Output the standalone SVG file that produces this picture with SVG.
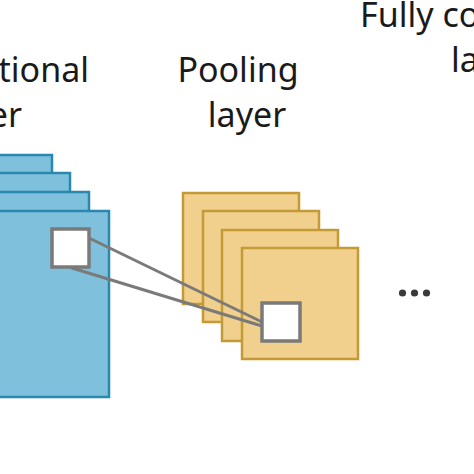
<svg xmlns="http://www.w3.org/2000/svg" width="474" height="474" viewBox="0 0 474 474">
  <style>
    .lbl { font-family: "Noto Sans", "Open Sans", "DejaVu Sans", sans-serif; font-size: 34px; fill: #1a1a1a; }
    .blue { fill: #7fc0dc; stroke: #2a88ae; stroke-width: 2.5; }
    .gold { fill: #f1d08d; stroke: #c39a35; stroke-width: 2.5; }
    .win { fill: #ffffff; stroke: #7a7a7a; stroke-width: 3.5; }
    .link { stroke: #7a7a7a; stroke-width: 3; fill: none; stroke-linecap: round; }
    .dot { fill: #3a3a3a; }
  </style>
  <rect width="474" height="474" fill="#ffffff"/>

  <g id="conv-label">
    <text class="lbl" x="89" y="82" text-anchor="end">tional</text>
    <text class="lbl" x="22" y="127" text-anchor="end">er</text>
  </g>
  <g id="pool-label">
    <text class="lbl" x="238" y="82" text-anchor="middle">Pooling</text>
    <text class="lbl" x="247" y="127" text-anchor="middle">layer</text>
  </g>
  <g id="fc-label">
    <text class="lbl" x="360" y="27">Fully co</text>
    <text class="lbl" x="451" y="72">la</text>
  </g>

  <g id="conv-layer">
    <rect class="blue" x="-80" y="155" width="132" height="186"/>
    <rect class="blue" x="-62" y="173" width="132" height="186"/>
    <rect class="blue" x="-43" y="192" width="132" height="186"/>
    <rect class="blue" x="-23" y="211" width="132" height="186"/>
  </g>

  <g id="pool-layer">
    <rect class="gold" x="183" y="193" width="116" height="111"/>
    <rect class="gold" x="203" y="211" width="116" height="111"/>
    <rect class="gold" x="222" y="230" width="116" height="111"/>
    <rect class="gold" x="242" y="248" width="116" height="111"/>
  </g>

  <g id="connectors">
    <line class="link" x1="89" y1="238" x2="262" y2="322"/>
    <line class="link" x1="72" y1="268" x2="262" y2="326"/>
  </g>

  <g id="conv-window">
    <rect class="win" x="52" y="229" width="37" height="38"/>
  </g>
  <g id="pool-window">
    <rect class="win" x="262" y="303" width="38" height="38"/>
  </g>

  <g id="ellipsis">
    <circle class="dot" cx="402.5" cy="293" r="3.6"/>
    <circle class="dot" cx="414.5" cy="293" r="3.6"/>
    <circle class="dot" cx="426.5" cy="293" r="3.6"/>
  </g>
</svg>
